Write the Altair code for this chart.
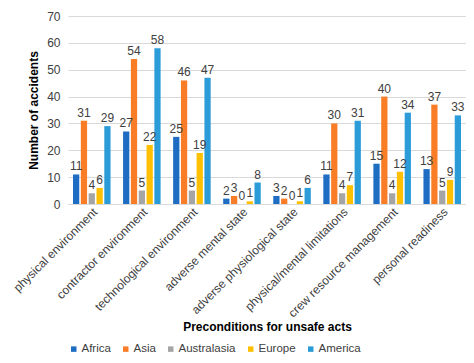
import altair as alt
import pandas as pd

categories = ["physical environment", "contractor environment", "technological environment",
              "adverse mental state", "adverse physiological state", "physical/mental limitations",
              "crew resource management", "personal readiness"]
regions = ["Africa", "Asia", "Australasia", "Europe", "America"]
africa = [11, 27, 25, 2, 3, 11, 15, 13]
asia = [31, 54, 46, 3, 2, 30, 40, 37]
australasia = [4, 5, 5, 0, 0, 4, 4, 5]
europe = [6, 22, 19, 1, 1, 7, 12, 9]
america = [29, 58, 47, 8, 6, 31, 34, 33]
colors = ["#1f6cc3", "#f97d27", "#a5a5a5", "#fec000", "#2b9cd8"]

series = [africa, asia, australasia, europe, america]
rows = []
for r, vals in zip(regions, series):
    for c, v in zip(categories, vals):
        rows.append({"category": c, "region": r, "value": v})
df = pd.DataFrame(rows)

font = "Liberation Sans"

x = alt.X("category:N", sort=categories, title="Preconditions for unsafe acts",
          scale=alt.Scale(paddingInner=0.25, paddingOuter=0.1),
          axis=alt.Axis(labelAngle=-45, labelAlign="right", labelBaseline="top",
                        labelFontSize=12, labelColor="#404040", ticks=False,
                        domainColor="#d9d9d9", titleFontSize=12, titleFontWeight="bold",
                        titleColor="#000000", titlePadding=3, labelPadding=2,
                        labelFont=font, titleFont=font, labelLimit=250, labelOverlap=False))
xo = alt.XOffset("region:N", sort=regions, scale=alt.Scale(paddingInner=0.2))
y = alt.Y("value:Q", title="Number of accidents",
          scale=alt.Scale(domain=[0, 70], nice=False),
          axis=alt.Axis(values=[0, 10, 20, 30, 40, 50, 60, 70], gridColor="#d9d9d9",
                        domain=False, ticks=False, labelFontSize=12, labelColor="#404040",
                        titleFontSize=12, titleFontWeight="bold", titleColor="#000000",
                        labelFont=font, titleFont=font, titlePadding=6, labelPadding=8,
                        labelOverlap=False))
color = alt.Color("region:N", sort=regions, scale=alt.Scale(domain=regions, range=colors),
                  legend=alt.Legend(orient="bottom", direction="horizontal", title=None,
                                    symbolType="square", symbolSize=30, labelFontSize=11.5,
                                    labelFont=font, labelColor="#404040", columnPadding=9,
                                    offset=10, padding=0, symbolStrokeWidth=0,
                                    labelOffset=2))

base = alt.Chart(df).encode(x=x, xOffset=xo, y=y)
bars = base.mark_bar().encode(color=color)
text = base.mark_text(dy=-8, fontSize=12, color="#404040", font=font).encode(text="value:Q")

chart = (bars + text).properties(
    width=458, height=347,
    autosize=alt.AutoSizeParams(type="fit", contains="padding"),
    padding={"left": 6, "top": 2, "right": 0, "bottom": 0},
).configure_view(stroke=None)
chart.save("out.html", embed_options={"renderer": "svg", "actions": False})
